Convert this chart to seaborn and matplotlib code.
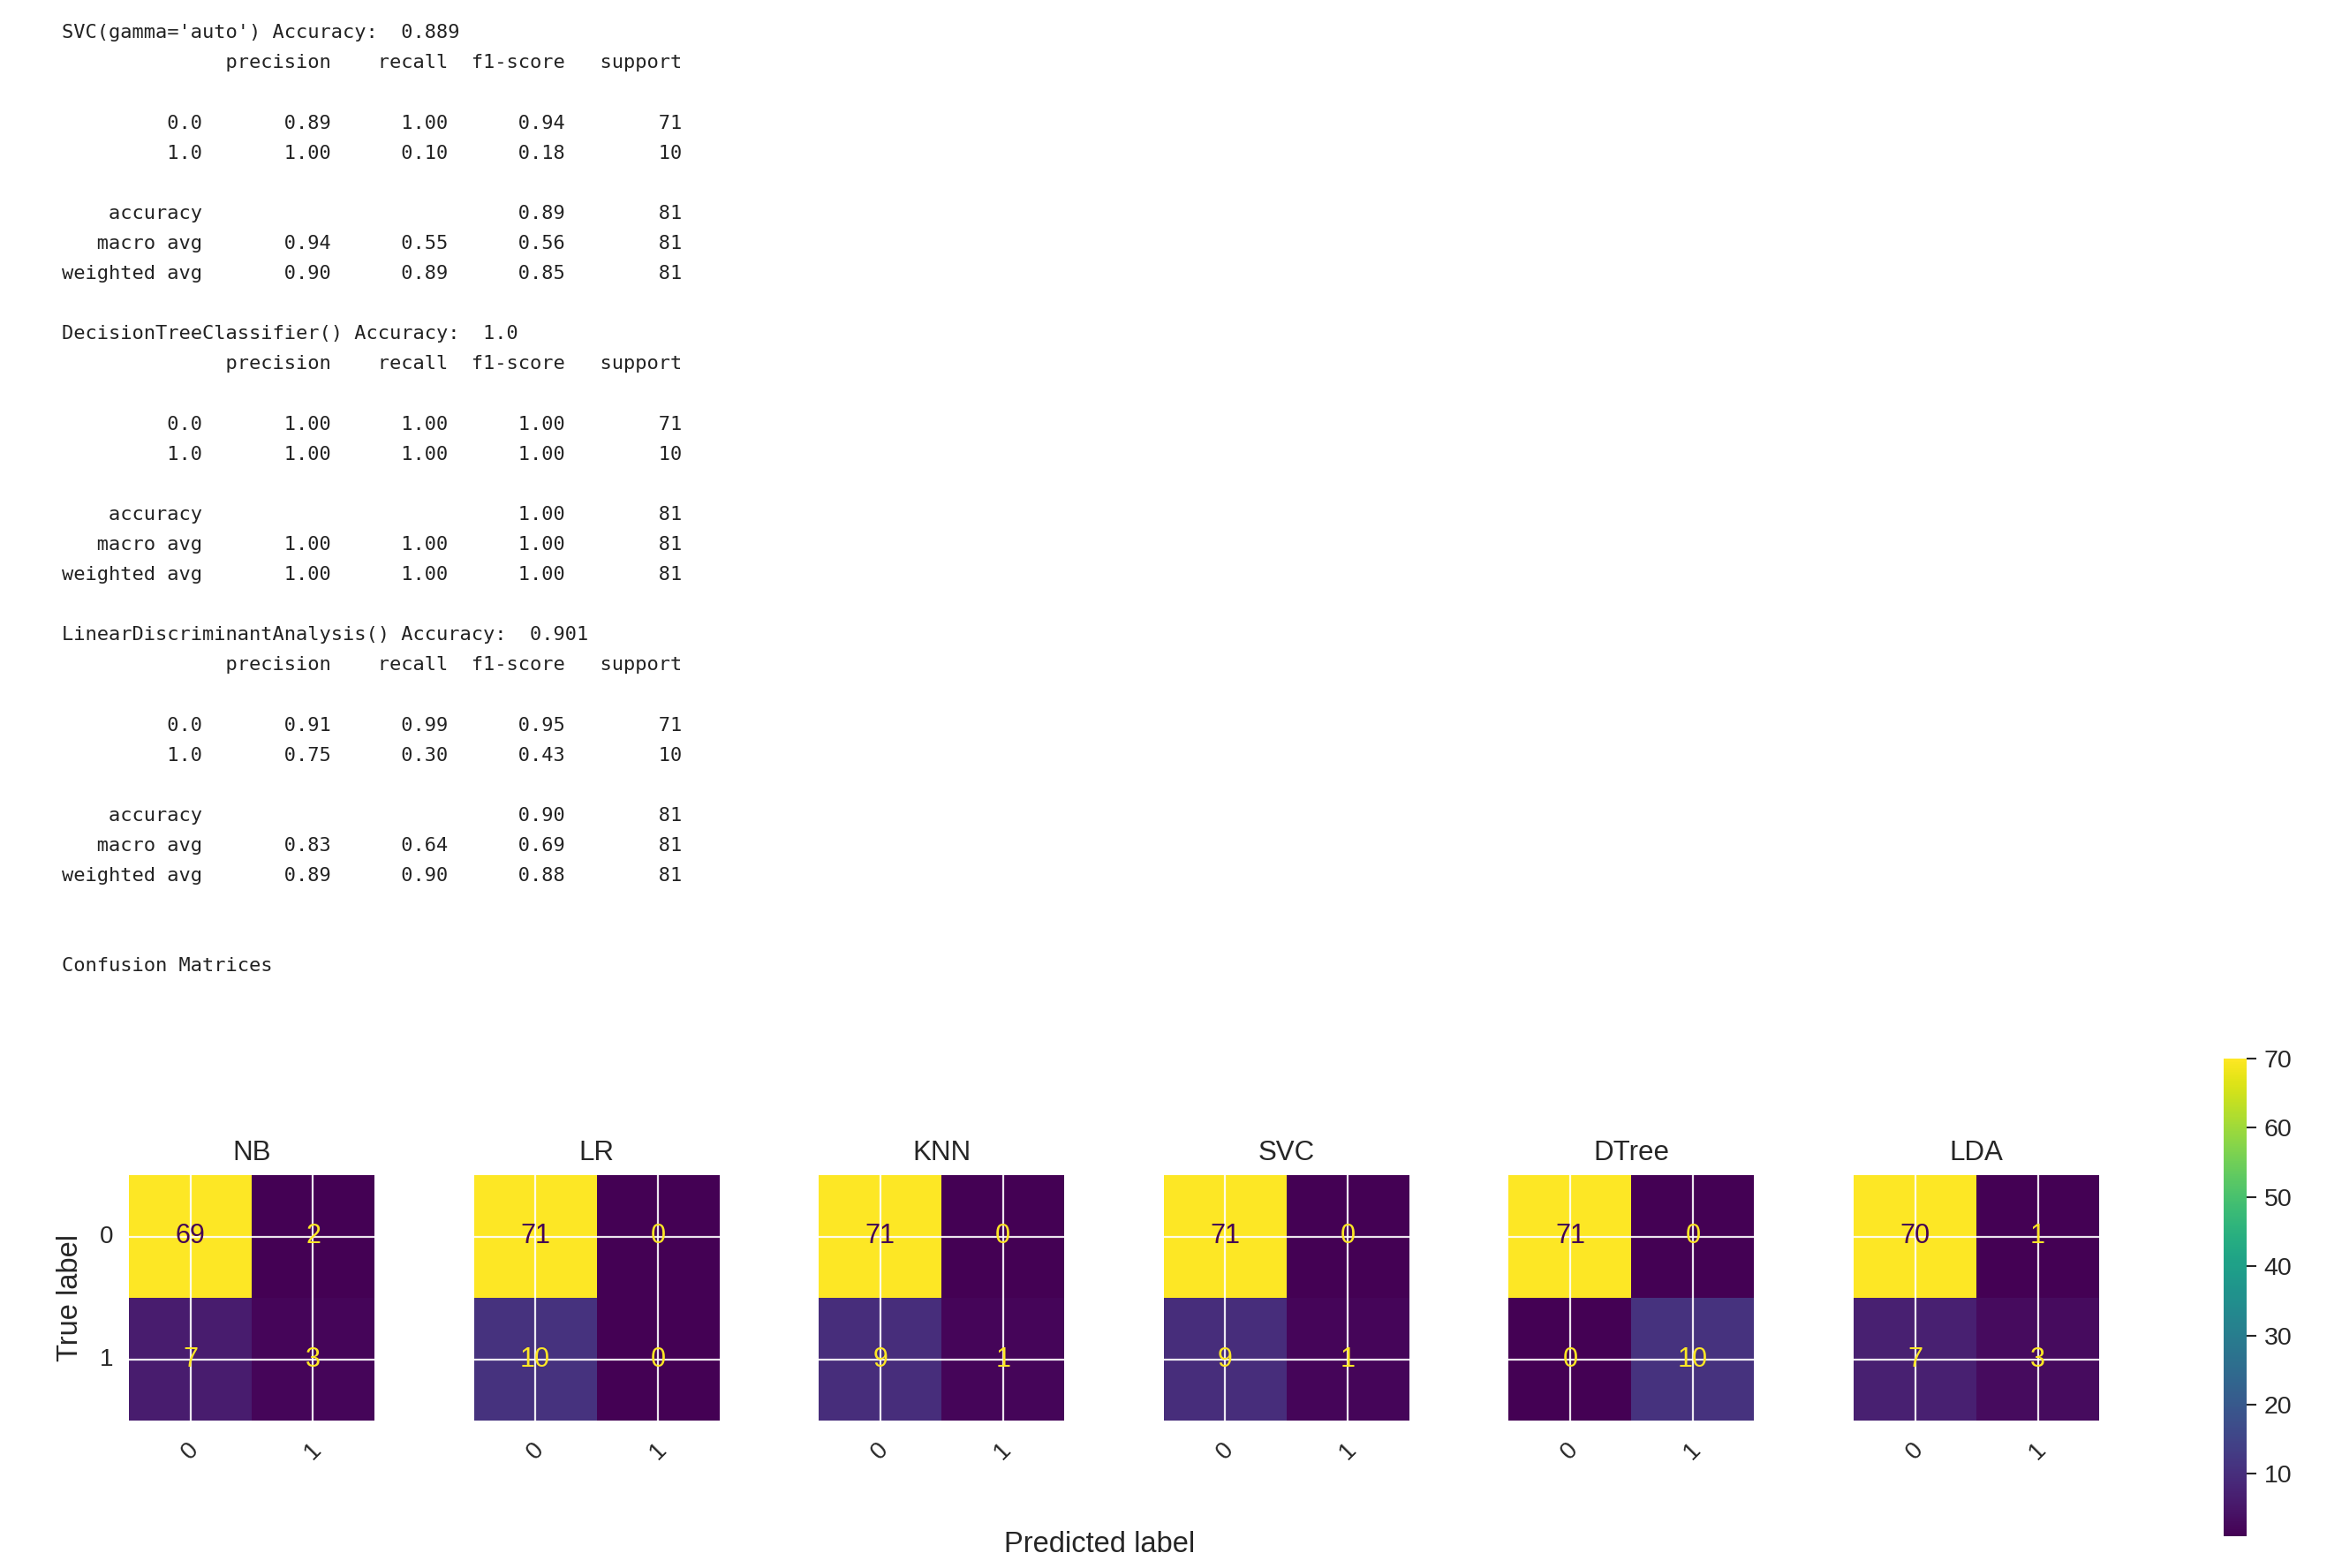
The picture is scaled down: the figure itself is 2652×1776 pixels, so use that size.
import numpy as np
import matplotlib
matplotlib.use('Agg')
import matplotlib.pyplot as plt
import seaborn as sns

# printed classification reports
model_names = ["SVC(gamma='auto')", "DecisionTreeClassifier()", "LinearDiscriminantAnalysis()"]
model_accuracy = [0.889, 1.0, 0.901]
class_labels = ['0.0', '1.0']
precision = [[0.89, 1.00], [1.00, 1.00], [0.91, 0.75]]
recall = [[1.00, 0.10], [1.00, 1.00], [0.99, 0.30]]
f1_score = [[0.94, 0.18], [1.00, 1.00], [0.95, 0.43]]
support = [71, 10]
accuracy_row = [0.89, 1.00, 0.90]
macro_avg = [[0.94, 0.55, 0.56], [1.00, 1.00, 1.00], [0.83, 0.64, 0.69]]
weighted_avg = [[0.90, 0.89, 0.85], [1.00, 1.00, 1.00], [0.89, 0.90, 0.88]]
total_support = 81

# confusion matrices
cm_names = ['NB', 'LR', 'KNN', 'SVC', 'DTree', 'LDA']
cm_values = [
    [[69, 2], [7, 3]],
    [[71, 0], [10, 0]],
    [[71, 0], [9, 1]],
    [[71, 0], [9, 1]],
    [[71, 0], [0, 10]],
    [[70, 1], [7, 3]],
]
tick_labels = ['0', '1']


def report_lines():
    w = 12
    head = "{:>{w}s} ".format('', w=w) + "".join(" {:>9}".format(h) for h in
                                                  ['precision', 'recall', 'f1-score', 'support'])
    lines = []
    for m in range(len(model_names)):
        lines.append(f"{model_names[m]} Accuracy:  {model_accuracy[m]}")
        lines.append(head)
        lines.append('')
        for c in range(len(class_labels)):
            lines.append("{:>{w}s} ".format(class_labels[c], w=w)
                         + " {:>9.2f} {:>9.2f} {:>9.2f}".format(precision[m][c], recall[m][c], f1_score[m][c])
                         + " {:>9}".format(support[c]))
        lines.append('')
        lines.append("{:>{w}s} ".format('accuracy', w=w) + " {:>9} {:>9}".format('', '')
                     + " {:>9.2f}".format(accuracy_row[m]) + " {:>9}".format(total_support))
        for lab, row in [('macro avg', macro_avg[m]), ('weighted avg', weighted_avg[m])]:
            lines.append("{:>{w}s} ".format(lab, w=w) + " {:>9.2f} {:>9.2f} {:>9.2f}".format(*row)
                         + " {:>9}".format(total_support))
        lines.append('')
    lines.append('')
    lines.append('Confusion Matrices')
    return lines


W, H = 2652, 1776
sns.set_theme(style='darkgrid')
plt.rcParams['font.family'] = ['Liberation Sans', 'DejaVu Sans']
fig = plt.figure(figsize=(W / 100, H / 100), dpi=100)
fig.patch.set_facecolor('white')

# text output above the figure
for i, line in enumerate(report_lines()):
    if line:
        fig.text(70 / W, 1 - (43.3 + 34.1 * i) / H, line, family='DejaVu Sans Mono',
                 fontsize=15.8, color='#222222', va='baseline', ha='left')

cmap = plt.get_cmap('viridis')
cax = fig.add_axes([2518 / W, 1 - 1740 / H, 26 / W, 541 / H])
size = 278
for i, (name, cm) in enumerate(zip(cm_names, cm_values)):
    cm = np.array(cm)
    left = 146 + i * 390.6
    ax = fig.add_axes([left / W, 1 - 1609 / H, size / W, size / H])
    last = i == len(cm_names) - 1
    sns.heatmap(cm, ax=ax, cmap='viridis', annot=True, fmt='d',
                cbar=last, cbar_ax=cax if last else None,
                xticklabels=tick_labels, yticklabels=tick_labels,
                annot_kws={'fontsize': 22})
    thresh = (cm.max() + cm.min()) / 2.0
    for t in ax.texts:
        v = float(t.get_text())
        t.set_color(cmap(1.0) if v < thresh else cmap(0.0))
    ax.grid(True, color='white', linewidth=1.6, alpha=0.9)
    ax.set_axisbelow(False)
    for s in ax.spines.values():
        s.set_visible(False)
    ax.set_title(name, fontsize=22.5, color='.15', pad=12)
    ax.tick_params(axis='both', length=0, labelsize=20, labelcolor='.15')
    ax.tick_params(axis='x', pad=14)
    ax.tick_params(axis='y', pad=13)
    plt.setp(ax.get_xticklabels(), rotation=45, ha='center')
    plt.setp(ax.get_yticklabels(), rotation=0)
    if i > 0:
        ax.tick_params(labelleft=False)

cax.tick_params(right=True, length=8, width=1.5, color='.15', labelsize=20.5,
                labelcolor='.15', pad=6)

fig.text(80 / W, 1 - 1470 / H, 'True label', rotation=90, ha='center', va='center',
         fontsize=23.5, color='.15')
fig.text(1245 / W, 1 - 1758 / H, 'Predicted label', ha='center', va='baseline',
         fontsize=23.5, color='.15')

fig.savefig('out.png', dpi=100, facecolor='white')
